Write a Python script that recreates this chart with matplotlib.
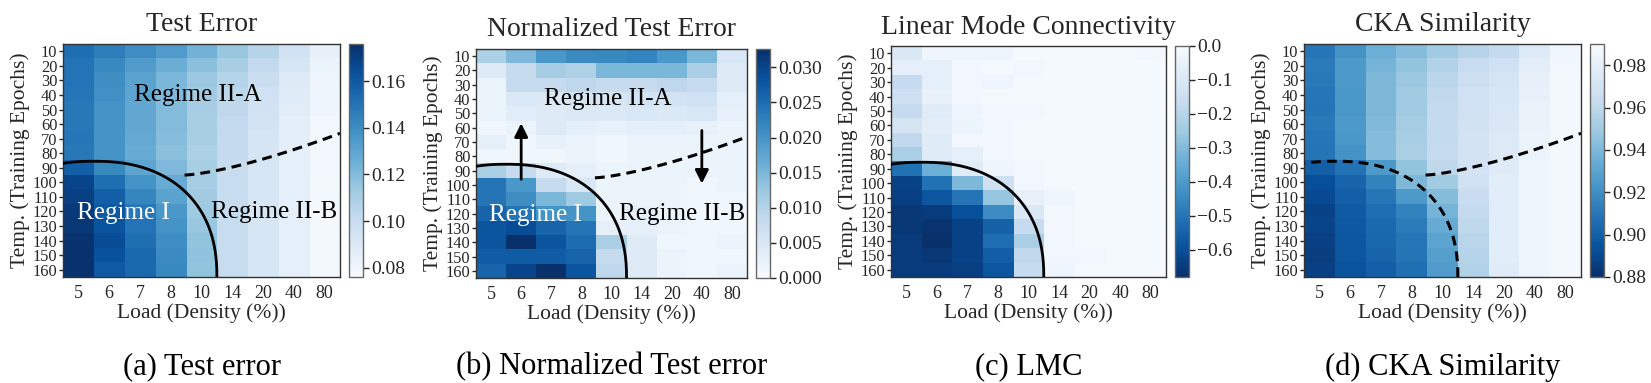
import numpy as np
import matplotlib
matplotlib.use('Agg')
import matplotlib.pyplot as plt

plt.rcParams['font.family'] = ['Liberation Serif', 'DejaVu Serif']

# axis categories
loads = ['5', '6', '7', '8', '10', '14', '20', '40', '80']
epochs = [str(e) for e in range(10, 170, 10)]

# test error (rows = epochs 10..160, cols = density)
test_error = [
    [0.152, 0.146, 0.140, 0.134, 0.124, 0.115, 0.106, 0.095, 0.084],
    [0.150, 0.142, 0.134, 0.126, 0.118, 0.110, 0.102, 0.092, 0.082],
    [0.150, 0.140, 0.131, 0.122, 0.114, 0.106, 0.098, 0.089, 0.081],
    [0.149, 0.139, 0.130, 0.121, 0.112, 0.104, 0.096, 0.088, 0.080],
    [0.148, 0.138, 0.129, 0.120, 0.111, 0.103, 0.095, 0.087, 0.080],
    [0.148, 0.138, 0.129, 0.120, 0.110, 0.102, 0.094, 0.086, 0.079],
    [0.149, 0.138, 0.128, 0.119, 0.110, 0.101, 0.093, 0.086, 0.079],
    [0.148, 0.137, 0.127, 0.118, 0.109, 0.101, 0.093, 0.085, 0.079],
    [0.158, 0.142, 0.130, 0.121, 0.110, 0.100, 0.092, 0.085, 0.079],
    [0.168, 0.152, 0.138, 0.127, 0.111, 0.100, 0.092, 0.085, 0.078],
    [0.170, 0.158, 0.143, 0.131, 0.112, 0.100, 0.092, 0.085, 0.078],
    [0.172, 0.160, 0.148, 0.136, 0.113, 0.100, 0.092, 0.085, 0.078],
    [0.173, 0.162, 0.150, 0.138, 0.115, 0.100, 0.092, 0.085, 0.078],
    [0.175, 0.165, 0.152, 0.140, 0.116, 0.100, 0.092, 0.085, 0.078],
    [0.175, 0.163, 0.154, 0.141, 0.117, 0.100, 0.092, 0.085, 0.078],
    [0.175, 0.160, 0.154, 0.142, 0.116, 0.100, 0.092, 0.085, 0.078],
]

norm_error = [
    [0.0108, 0.0147, 0.0196, 0.0212, 0.0215, 0.0220, 0.0196, 0.0150, 0.0050],
    [0.0040, 0.0080, 0.0114, 0.0105, 0.0150, 0.0150, 0.0150, 0.0110, 0.0040],
    [0.0020, 0.0080, 0.0080, 0.0090, 0.0080, 0.0080, 0.0090, 0.0080, 0.0040],
    [0.0020, 0.0045, 0.0045, 0.0055, 0.0055, 0.0060, 0.0060, 0.0065, 0.0030],
    [0.0020, 0.0035, 0.0040, 0.0045, 0.0045, 0.0050, 0.0045, 0.0050, 0.0025],
    [0.0012, 0.0020, 0.0040, 0.0030, 0.0025, 0.0030, 0.0030, 0.0025, 0.0020],
    [0.0030, 0.0012, 0.0025, 0.0020, 0.0012, 0.0020, 0.0020, 0.0020, 0.0020],
    [0.0012, 0.0012, 0.0012, 0.0020, 0.0012, 0.0020, 0.0020, 0.0020, 0.0020],
    [0.0110, 0.0080, 0.0040, 0.0030, 0.0020, 0.0020, 0.0020, 0.0020, 0.0020],
    [0.0240, 0.0196, 0.0080, 0.0050, 0.0020, 0.0020, 0.0020, 0.0012, 0.0020],
    [0.0240, 0.0210, 0.0150, 0.0120, 0.0020, 0.0020, 0.0020, 0.0012, 0.0012],
    [0.0260, 0.0240, 0.0200, 0.0200, 0.0020, 0.0030, 0.0020, 0.0012, 0.0012],
    [0.0280, 0.0290, 0.0260, 0.0240, 0.0030, 0.0030, 0.0020, 0.0012, 0.0012],
    [0.0280, 0.0326, 0.0280, 0.0250, 0.0110, 0.0040, 0.0012, 0.0012, 0.0020],
    [0.0270, 0.0270, 0.0270, 0.0260, 0.0080, 0.0040, 0.0020, 0.0012, 0.0012],
    [0.0260, 0.0300, 0.0326, 0.0280, 0.0090, 0.0040, 0.0020, 0.0012, 0.0020],
]

lmc = [
    [-0.10, -0.03, -0.03, -0.03, -0.01, -0.01, -0.01, -0.01, -0.02],
    [-0.06, -0.06, -0.02, -0.01, -0.02, -0.01, -0.01, -0.01, -0.01],
    [-0.17, -0.06, -0.02, -0.03, -0.01, -0.01, -0.01, -0.01, -0.01],
    [-0.14, -0.05, -0.02, -0.01, -0.01, -0.01, -0.01, -0.01, -0.01],
    [-0.17, -0.08, -0.03, -0.02, -0.02, -0.01, -0.01, -0.01, -0.01],
    [-0.12, -0.07, -0.04, -0.02, -0.01, -0.01, -0.01, -0.01, -0.01],
    [-0.18, -0.08, -0.02, -0.02, -0.01, -0.01, -0.01, -0.01, -0.01],
    [-0.23, -0.08, -0.06, -0.02, -0.01, -0.01, -0.01, -0.01, -0.01],
    [-0.51, -0.34, -0.08, -0.03, -0.02, -0.01, -0.01, -0.01, -0.01],
    [-0.63, -0.51, -0.31, -0.14, -0.02, -0.01, -0.01, -0.01, -0.01],
    [-0.64, -0.58, -0.50, -0.27, -0.05, -0.03, -0.01, -0.01, -0.01],
    [-0.66, -0.65, -0.60, -0.44, -0.10, -0.02, -0.01, -0.01, -0.01],
    [-0.66, -0.67, -0.63, -0.55, -0.17, -0.02, -0.01, -0.01, -0.01],
    [-0.65, -0.68, -0.63, -0.52, -0.23, -0.02, -0.01, -0.01, -0.01],
    [-0.65, -0.66, -0.63, -0.56, -0.18, -0.02, -0.02, -0.01, -0.01],
    [-0.65, -0.65, -0.64, -0.58, -0.17, -0.03, -0.01, -0.01, -0.01],
]

cka = [
    [0.910, 0.922, 0.935, 0.942, 0.950, 0.957, 0.962, 0.975, 0.986],
    [0.912, 0.925, 0.938, 0.946, 0.956, 0.964, 0.968, 0.979, 0.987],
    [0.911, 0.925, 0.940, 0.948, 0.959, 0.966, 0.971, 0.981, 0.988],
    [0.910, 0.924, 0.940, 0.950, 0.961, 0.968, 0.972, 0.982, 0.988],
    [0.909, 0.924, 0.940, 0.950, 0.962, 0.968, 0.973, 0.983, 0.988],
    [0.911, 0.925, 0.941, 0.951, 0.962, 0.969, 0.974, 0.983, 0.988],
    [0.910, 0.924, 0.942, 0.952, 0.962, 0.970, 0.975, 0.984, 0.988],
    [0.909, 0.922, 0.942, 0.953, 0.963, 0.970, 0.976, 0.984, 0.988],
    [0.900, 0.908, 0.925, 0.946, 0.960, 0.970, 0.977, 0.985, 0.988],
    [0.893, 0.902, 0.915, 0.940, 0.950, 0.968, 0.978, 0.985, 0.988],
    [0.891, 0.900, 0.910, 0.925, 0.942, 0.965, 0.978, 0.985, 0.988],
    [0.888, 0.898, 0.906, 0.915, 0.938, 0.962, 0.978, 0.985, 0.988],
    [0.889, 0.897, 0.904, 0.912, 0.934, 0.960, 0.978, 0.985, 0.988],
    [0.887, 0.896, 0.903, 0.910, 0.930, 0.958, 0.978, 0.985, 0.988],
    [0.886, 0.896, 0.902, 0.909, 0.928, 0.957, 0.978, 0.985, 0.988],
    [0.887, 0.895, 0.900, 0.907, 0.926, 0.956, 0.977, 0.985, 0.988],
]

titles = ['Test Error', 'Normalized Test Error', 'Linear Mode Connectivity', 'CKA Similarity']
captions = ['(a) Test error', '(b) Normalized Test error', '(c) LMC', '(d) CKA Similarity']

W, H = 1651, 383
TXT = '#262626'

def rect(x0, y0, x1, y1):
    return [x0 / W, 1 - y1 / H, (x1 - x0) / W, (y1 - y0) / H]

fig = plt.figure(figsize=(W / 100, H / 100), dpi=100)

# pixel boxes: heatmap axes, colorbar
boxes = [
    ((63, 44, 340, 277), (349, 44, 363, 277)),
    ((476, 49, 747, 278), (756, 49, 770, 278)),
    ((891, 46, 1166, 277), (1175, 46, 1189, 277)),
    ((1304, 44, 1581, 277), (1590, 44, 1604, 277)),
]
data = [test_error, norm_error, lmc, cka]
cmaps = ['Blues', 'Blues', 'Blues_r', 'Blues_r']
limits = [(0.076, 0.176), (0.0, 0.0326), (-0.68, 0.0), (0.88, 0.99)]
cticks = [[0.08, 0.10, 0.12, 0.14, 0.16],
          [0.0, 0.005, 0.01, 0.015, 0.02, 0.025, 0.03],
          [0.0, -0.1, -0.2, -0.3, -0.4, -0.5, -0.6],
          [0.88, 0.90, 0.92, 0.94, 0.96, 0.98]]
cfmt = ['{:.2f}', '{:.3f}', '{:.1f}', '{:.2f}']


def phase_curve(ax, dashed):
    # quarter super-ellipse: Regime I boundary
    t = np.linspace(0, np.pi, 400)
    cx, cy, a, b, p = 0.5, 15.5, 4.0, 7.95, 2.3
    x = cx + a * np.sign(np.cos(t)) * np.abs(np.cos(t)) ** (2 / p)
    y = cy - b * np.abs(np.sin(t)) ** (2 / p)
    m = x >= -0.5
    if dashed:
        ax.plot(x[m], y[m], color='black', lw=2.2, ls='--', dashes=(3.2, 2), zorder=3)
    else:
        ax.plot(x[m], y[m], color='black', lw=2.0, zorder=3)


def split_curve(ax):
    x = np.linspace(3.45, 8.5, 100)
    y = 8.5 - 0.297 * (x - 3.45) ** 1.4
    ax.plot(x, y, color='black', lw=2.2, ls='--', dashes=(3.2, 2), zorder=3)


for i in range(4):
    axbox, cbox = boxes[i]
    ax = fig.add_axes(rect(*axbox))
    cax = fig.add_axes(rect(*cbox))
    vmin, vmax = limits[i]
    im = ax.imshow(np.array(data[i]), cmap=cmaps[i], vmin=vmin, vmax=vmax, aspect='auto',
                   interpolation='nearest')
    ax.set_xlim(-0.5, 8.5)
    ax.set_ylim(15.5, -0.5)
    ax.set_xticks(range(len(loads)))
    ax.set_xticklabels(loads, fontsize=13, color=TXT)
    ax.set_yticks(range(len(epochs)))
    ax.set_yticklabels(epochs, fontsize=11.8, color=TXT)
    ax.tick_params(axis='x', length=0, pad=6)
    ax.tick_params(axis='y', length=3, width=1, pad=1, color=TXT)
    for s in ax.spines.values():
        s.set_color('#333333')
        s.set_linewidth(1.0)
    ax.set_xlabel('Load (Density (%))', fontsize=15.5, color=TXT, labelpad=1)
    ax.set_ylabel('Temp. (Training Epochs)', fontsize=15.5, color=TXT, labelpad=2)
    ax.set_title(titles[i], fontsize=20, color=TXT, pad=9)

    cb = fig.colorbar(im, cax=cax, ticks=cticks[i])
    cb.ax.set_yticklabels([cfmt[i].format(v).replace('-', '\u2212') for v in cticks[i]],
                          fontsize=14, color=TXT)
    cb.ax.tick_params(length=4, width=1, pad=2, color=TXT)
    cb.outline.set_edgecolor('#666666')
    cb.outline.set_linewidth(1.0)

    phase_curve(ax, dashed=(i == 3))
    if i != 2:
        split_curve(ax)
    if i < 2:
        ax.text(3.87, 3.0, 'Regime II-A', fontsize=18, ha='center', va='center', color='black', zorder=4)
        ax.text(1.46, 11.1, 'Regime I', fontsize=18, ha='center', va='center', color='white', zorder=4)
        ax.text(6.35, 11.05, 'Regime II-B', fontsize=18, ha='center', va='center', color='black', zorder=4)
    if i == 1:
        ax.annotate('', xy=(1, 4.5), xytext=(1, 8.8),
                    arrowprops=dict(arrowstyle='-|>', color='black', lw=2, mutation_scale=20), zorder=4)
        ax.annotate('', xy=(7, 9.1), xytext=(7, 5.0),
                    arrowprops=dict(arrowstyle='-|>', color='black', lw=2, mutation_scale=20), zorder=4)

    cxp = (axbox[0] + axbox[2]) / 2
    fig.text(cxp / W, 1 - 367 / H, captions[i], fontsize=22, ha='center', va='center', color='black')

fig.savefig('out.png', dpi=100)
